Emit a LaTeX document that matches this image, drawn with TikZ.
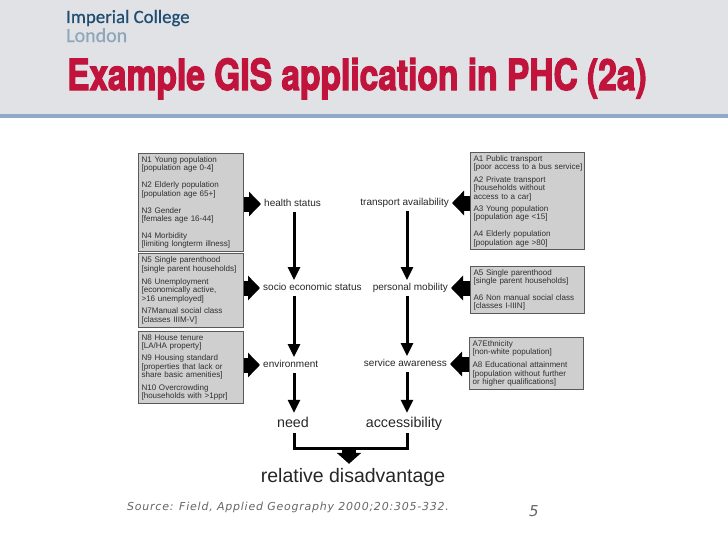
\documentclass[tikz,border=0pt]{standalone}
\usepackage{fontspec}
\setmainfont{Liberation Sans}
\newfontfamily\titlefont[FakeStretch=0.78,FakeBold=2.6]{TeX Gyre Heros}
\newfontfamily\logofont[FakeBold=0.6]{Carlito}
\newfontfamily\notefont[LetterSpace=7]{DejaVu Sans}
\usetikzlibrary{arrows.meta,positioning}
\definecolor{headbg}{HTML}{E0E2E6}
\definecolor{headline}{HTML}{8FAAC6}
\definecolor{titlered}{HTML}{C0143C}
\definecolor{logoblue}{HTML}{1F4E72}
\definecolor{logogrey}{HTML}{8FA6BC}
\definecolor{boxgrey}{HTML}{CFCFCF}
\definecolor{boxtext}{HTML}{303030}
\begin{document}
\begin{tikzpicture}[x=1pt,y=-1pt,
 factors/.style={draw=black!65, line width=1.1pt, fill=boxgrey, text=boxtext, anchor=north west, align=left, inner xsep=3pt, inner ysep=2pt, font=\fontsize{8.05}{8.4}\selectfont},
 concept/.style={inner sep=3pt, minimum height=12pt, text height=7.5pt, text depth=2pt, text=black!85, font=\fontsize{10}{12}\selectfont},
 result/.style={inner sep=0pt, minimum height=20pt, text height=11pt, text depth=3pt, text=black!85, font=\fontsize{14.3}{16}\selectfont},
 fat/.style={-{Triangle[length=12pt,width=24pt]}, line width=15pt},
 flow/.style={-{Triangle[length=13pt,width=12pt]}, line width=3pt},
 bracket/.style={line width=3pt}]

 \useasboundingbox (0,0) rectangle (728,546);

 % --- Header ---
 \fill[headbg] (0,0) rectangle (728,114);
 \fill[headline] (0,114) rectangle (728,117.5);
 \node[anchor=base west, inner sep=0pt, text=logoblue, font=\logofont\fontsize{18.8}{20}\selectfont] (logotop) at (66,23) {Imperial College};
 \node[anchor=base west, inner sep=0pt, text=logogrey, font=\logofont\fontsize{20}{20}\selectfont] (logobot) at (66,42) {London};
 \node[anchor=base west, inner sep=0pt, text=titlered, font=\titlefont\bfseries\fontsize{43}{44}\selectfont] (title) at (67,90) {Example GIS application in PHC (2a)};

 % --- Need factors ---
 \node[factors, text width=99pt, minimum height=98pt] (nhealth) at (138,153) {N1 Young population\\{[}population age 0-4]\\[8.5pt]N2 Elderly population\\{[}population age 65+]\\[8.5pt]N3 Gender\\{[}females age 16-44]\\[8.5pt]N4 Morbidity\\{[}limiting longterm illness]};
 \node[factors, text width=99pt, minimum height=74pt] (nsocio) at (138,253) {N5 Single parenthood\\{[}single parent households]\\[4.5pt]N6 Unemployment\\{[}economically active,\\>16 unemployed]\\[4.5pt]N7Manual social class\\{[}classes IIIM-V]};
 \node[factors, text width=99pt, minimum height=72pt] (nenv) at (138,331) {N8 House tenure\\{[}LA/HA property]\\[4pt]N9 Housing standard\\{[}properties that lack or\\share basic amenities]\\[4.5pt]N10 Overcrowding\\{[}households with >1ppr]};

 % --- Access factors ---
 \node[factors, text width=108pt, minimum height=97pt] (atrans) at (470,152) {A1 Public transport\\\mbox{[poor access to a bus service]}\\[4.5pt]A2 Private transport\\{[}households without\\access to a car]\\[4pt]A3 Young population\\{[}population age <15]\\[8.5pt]A4 Elderly population\\{[}population age >80]};
 \node[factors, text width=108pt, minimum height=47pt] (amob) at (470,266) {A5 Single parenthood\\{[}single parent households]\\[8.5pt]A6 Non manual social class\\{[}classes I-IIIN]};
 \node[factors, text width=108pt, minimum height=52pt] (aserv) at (469,337) {A7Ethnicity\\{[}non-white population]\\[4.5pt]A8 Educational attainment\\{[}population without further\\or higher qualifications]};

 % --- Concepts ---
 \coordinate (leftcol) at (294,0);
 \coordinate (rightcol) at (407,0);
 \node[concept, anchor=west] (health) at (261,204) {health status};
 \node[concept, anchor=west] (socio) at (260,288) {socio economic status};
 \node[concept, anchor=west] (environ) at (260,365) {environment};
 \node[concept, anchor=east] (transport) at (452,203) {transport availability};
 \node[concept, anchor=east] (mobility) at (451,288) {personal mobility};
 \node[concept, anchor=east] (awareness) at (450,364) {service awareness};
 \node[result] (need) at (293,423) {need};
 \node[result] (access) at (404,423) {accessibility};
 \node[inner sep=0pt, minimum height=26pt, text height=15pt, text depth=4pt, text=black!85, font=\fontsize{19.5}{22}\selectfont] (relative) at (353,477) {relative disadvantage};
 \coordinate (bar) at (349,448);

 \draw[fat] (nhealth.east |- health.west) -- (health.west);
 \draw[fat] (nsocio.east |- socio.west) -- (socio.west);
 \draw[fat] (nenv.east |- environ.west) -- (environ.west);
 \draw[fat] (atrans.west |- transport.east) -- (transport.east);
 \draw[fat] (amob.west |- mobility.east) -- (mobility.east);
 \draw[fat] (aserv.west |- awareness.east) -- (awareness.east);

 \draw[flow] (health.south -| leftcol) -- (socio.north -| leftcol);
 \draw[flow] (socio.south -| leftcol) -- (environ.north -| leftcol);
 \draw[flow] (environ.south -| leftcol) -- (need.north -| leftcol);
 \draw[flow] (transport.south -| rightcol) -- (mobility.north -| rightcol);
 \draw[flow] (mobility.south -| rightcol) -- (awareness.north -| rightcol);
 \draw[flow] (awareness.south -| rightcol) -- (access.north -| rightcol);

 \draw[bracket] (need.south -| leftcol) |- (bar) -| (access.south -| rightcol);
 \draw[-{Triangle[length=11pt,width=24pt]}, line width=14pt] (bar) -- (relative.north -| bar);

 % --- Footer ---
 \node[anchor=west, inner sep=0pt, text=black!60, font=\notefont\itshape\fontsize{11}{12}\selectfont] (source) at (127,507) {Source: Field, Applied Geography 2000;20:305-332.};
 \node[inner sep=0pt, text=black!60, font=\notefont\itshape\fontsize{15}{18}\selectfont] (pageno) at (534,511) {5};
\end{tikzpicture}
\end{document}
